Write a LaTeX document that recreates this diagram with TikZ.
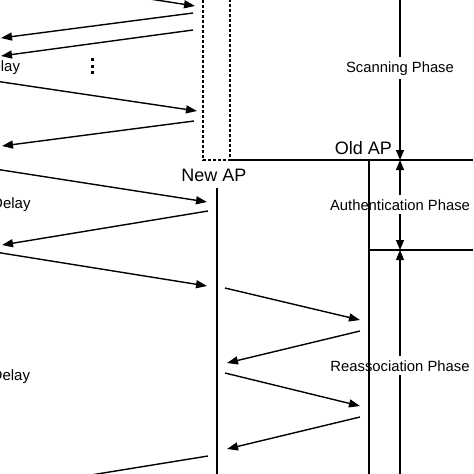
\documentclass[tikz,border=0pt]{standalone}
\usepackage{fontspec}
\setmainfont{Liberation Sans}
\usetikzlibrary{arrows.meta}
\begin{document}
\begin{tikzpicture}[x=1pt,y=-1pt,
	msg/.style={line width=1.4pt,-{Triangle[length=11pt,width=8pt]}},
	phase/.style={line width=1.1pt,-{Triangle[length=10pt,width=8pt]}},
	lifeline/.style={line width=1.1pt},
	phaselabel/.style={inner sep=4pt,anchor=base,font=\fontsize{14.8}{17}\selectfont},
	aplabel/.style={inner sep=3pt,anchor=base,font=\fontsize{18}{21}\selectfont},
	delaylabel/.style={inner sep=0pt,anchor=base west,font=\fontsize{15}{18}\selectfont}]
\useasboundingbox (0,0) rectangle (474,474);
\clip (0,0) rectangle (474,474);
% labels
\node[phaselabel] (scan) at (400,72) {Scanning Phase};
\node[phaselabel] (auth) at (400,210) {Authentication Phase};
\node[phaselabel] (reas) at (400,371) {Reassociation Phase};
\node[aplabel] (oldap) at (363.5,154) {Old AP};
\node[aplabel] (newap) at (214,181.7) {New AP};
\node[delaylabel] (delay1) at (-18.5,71) {Delay};
\node[delaylabel] (delay2) at (-8,208.3) {Delay};
\node[delaylabel] (delay3) at (-8.5,380.7) {Delay};
% lifelines
\coordinate (boxtl) at (203,-5);
\coordinate (boxbr) at (230,160);
\coordinate (boxtr) at (230,-5);
\coordinate (oldw) at (369,160);
\coordinate (olde) at (473,160);
\coordinate (oldbot) at (369,480);
\coordinate (midw) at (369,250);
\coordinate (mide) at (473,250);
\coordinate (newtop) at (217,188);
\coordinate (newbot) at (217,480);
\draw[lifeline,dash pattern=on 3pt off 2pt] (boxtl) |- (boxbr) -- (boxtr);
\draw[lifeline] (boxbr) -- (olde);
\draw[lifeline] (oldw) -- (oldbot);
\draw[lifeline] (midw) -- (mide);
\draw[lifeline] (newtop) -- (newbot);
% phases
\coordinate (scantop) at (400,-5);
\coordinate (scanend) at (400,160);
\coordinate (authend) at (400,250);
\coordinate (reasbot) at (400,480);
\draw[lifeline] (scantop) -- (scan);
\draw[phase] (scan) -- (scanend);
\draw[phase] (auth) -- (scanend);
\draw[phase] (auth) -- (authend);
\draw[phase] (reas) -- (authend);
\draw[lifeline] (reas) -- (reasbot);
% messages
\coordinate (m1a) at (-5,-25); \coordinate (m1b) at (195,6);
\coordinate (m2a) at (193,13); \coordinate (m2b) at (1,38);
\coordinate (m3a) at (193,30); \coordinate (m3b) at (1,56);
\coordinate (m4a) at (-5,81); \coordinate (m4b) at (197,111);
\coordinate (m5a) at (194,121); \coordinate (m5b) at (2,146);
\coordinate (m6a) at (-5,169); \coordinate (m6b) at (207,202);
\coordinate (m7a) at (208,211); \coordinate (m7b) at (2,245);
\coordinate (m8a) at (-5,252); \coordinate (m8b) at (207,286);
\coordinate (m9a) at (225,288); \coordinate (m9b) at (360,320);
\coordinate (m10a) at (360,331); \coordinate (m10b) at (227,363);
\coordinate (m11a) at (225,373); \coordinate (m11b) at (360,406);
\coordinate (m12a) at (360,417); \coordinate (m12b) at (227,449);
\coordinate (m13a) at (208,456); \coordinate (m13b) at (-20,493);
\draw[msg] (m1a) -- (m1b);
\draw[msg] (m2a) -- (m2b);
\draw[msg] (m3a) -- (m3b);
\draw[msg] (m4a) -- (m4b);
\draw[msg] (m5a) -- (m5b);
\draw[msg] (m6a) -- (m6b);
\draw[msg] (m7a) -- (m7b);
\draw[msg] (m8a) -- (m8b);
\draw[msg] (m9a) -- (m9b);
\draw[msg] (m10a) -- (m10b);
\draw[msg] (m11a) -- (m11b);
\draw[msg] (m12a) -- (m12b);
\draw[msg] (m13a) -- (m13b);
% dots
\foreach \y in {61,67.5,74}
	\fill (91,\y) rectangle +(2.6pt,2.6pt);
\end{tikzpicture}
\end{document}
